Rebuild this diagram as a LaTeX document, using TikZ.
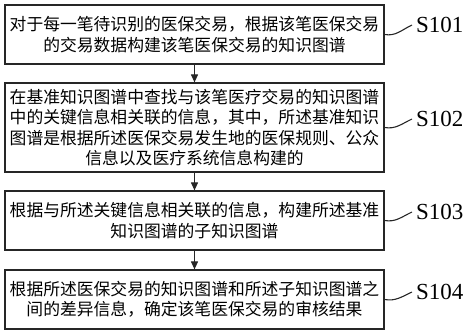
\documentclass[tikz,border=0pt]{standalone}
\usepackage{fontspec}
\setmainfont{Liberation Serif}
\newfontfamily\cjk{Noto Sans CJK SC}
\usetikzlibrary{arrows.meta,positioning}

\begin{document}
\begin{tikzpicture}[
    x=1pt, y=1pt,
    >={Triangle[length=8pt, width=7pt]},
    stepbox/.style={draw=black!85, line width=1.2pt, minimum width=379pt,
                    inner sep=0pt, align=center,
                    font=\cjk\fontsize{16.8}{20.5}\selectfont},
    flow/.style={->, line width=1.1pt, black!85},
    tag/.style={font=\fontsize{23}{23}\selectfont, inner sep=4pt, anchor=west},
    hook/.style={line width=1.1pt, black!85},
]
    \useasboundingbox (0,0) rectangle (474,-335);

    % ============================================================
    %  STEPS
    % ============================================================
    \node[stepbox, minimum height=59pt] (s1) at (194.5,-34.5)
        {对于每一笔待识别的医保交易，根据该笔医保交易\\的交易数据构建该笔医保交易的知识图谱};
    \node[stepbox, minimum height=89pt] (s2) at (194.5,-127.5)
        {在基准知识图谱中查找与该笔医疗交易的知识图谱\\中的关键信息相关联的信息，其中，所述基准知识\\图谱是根据所述医保交易发生地的医保规则、公众\\信息以及医疗系统信息构建的};
    \node[stepbox, minimum height=59pt] (s3) at (194.5,-220.5)
        {根据与所述关键信息相关联的信息，构建所述基准\\知识图谱的子知识图谱};
    \node[stepbox, minimum height=59pt] (s4) at (194.5,-299.5)
        {根据所述医保交易的知识图谱和所述子知识图谱之\\间的差异信息，确定该笔医保交易的审核结果};

    % ============================================================
    %  STEP TAGS
    % ============================================================
    \node[tag] (t1) at (412,-25)  {S101};
    \node[tag] (t2) at (412,-119) {S102};
    \node[tag] (t3) at (412,-212) {S103};
    \node[tag] (t4) at (412,-292) {S104};

    \draw[hook] (s1.east) to[out=-10, in=205] (t1.west);
    \draw[hook] (s2.east) to[out=-10, in=205] (t2.west);
    \draw[hook] (s3.east) to[out=-10, in=205] (t3.west);
    \draw[hook] (s4.east) to[out=-10, in=205] (t4.west);

    % ============================================================
    %  FLOW
    % ============================================================
    \draw[flow] (s1) -- (s2);
    \draw[flow] (s2) -- (s3);
    \draw[flow] (s3) -- (s4);

\end{tikzpicture}
\end{document}
